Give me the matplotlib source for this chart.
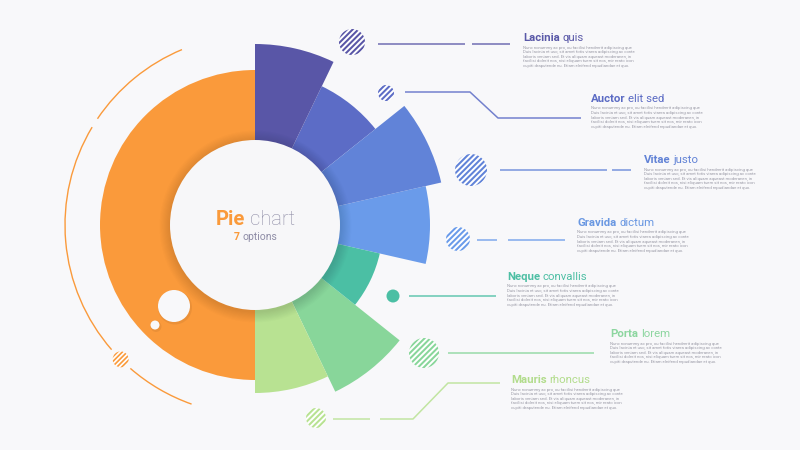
import matplotlib
matplotlib.use('Agg')
import matplotlib.pyplot as plt
from matplotlib.patches import Wedge, Circle, Arc
import numpy as np

plt.rcParams['font.family'] = ['Roboto', 'DejaVu Sans']

# ---------------- data ----------------
bold_words = ['Lacinia', 'Auctor', 'Vitae', 'Gravida', 'Neque', 'Porta', 'Mauris']
rest_words = ['quis', 'elit sed', 'justo', 'dictum', 'convallis', 'lorem', 'rhoncus']
values = [181, 154, 191, 175, 128, 185, 168]          # outer radius of each option slice
total_value = 155                                     # radius of the orange half ring
colors = ['#5956A7', '#5C6CC6', '#6183D8', '#6A9BEA', '#4BBFA4', '#88D69A', '#B8E292']
title_colors = ['#5A59A8', '#5B6BC4', '#6283D6', '#6A98E2', '#4EBFA4', '#8DD6A0', '#B2DC8C']
orange = '#FA9A3B'
center_title = ('Pie', 'chart')
center_sub = ('7', 'options')
body_lines = [
    'Nunc nonummy ac pro, ou facilisi hendrerit adipiscing que',
    'Duis lacinia et uso, sit amet fotis viaera adipiscing ac conte',
    'laboris veniam sed. Et vis aliquam aqueast moderanen, in',
    'facilisi dolerit eos, nisi eliquam tuem sit eos, mir erato icon',
    'cupiti draputende eu. Etiam eleifend repudiandae et quo.',
]

# ---------------- layout ----------------
W, H = 800, 450
cx, cy = 255, 225
r_in = 85

fig = plt.figure(figsize=(8, 4.5), dpi=100)
fig.patch.set_facecolor('#F8F8FA')
ax = fig.add_axes([0, 0, 1, 1])
ax.set_xlim(0, W)
ax.set_ylim(0, H)
ax.set_aspect('equal')
ax.axis('off')

def py(y):
    return H - y

def hatched(x, y, r, c, spacing=4.0, lw=1.45, z=3):
    circ = Circle((x, y), r, facecolor='#FFFFFF', lw=0, zorder=z)
    ax.add_patch(circ)
    u = np.array([1.0, 1.0]) / np.sqrt(2)
    v = np.array([-1.0, 1.0]) / np.sqrt(2)
    for d in np.arange(-r * 1.2, r * 1.2, spacing):
        p0 = np.array([x, y]) + v * d - u * r * 1.5
        p1 = np.array([x, y]) + v * d + u * r * 1.5
        ln, = ax.plot([p0[0], p1[0]], [p0[1], p1[1]], color=c, lw=lw, zorder=z + 0.1,
                      solid_capstyle='butt')
        ln.set_clip_path(circ)

# orange half ring
ax.add_patch(Wedge((cx, cy), total_value, 90, 270, facecolor=orange, lw=0, zorder=2))

# option slices
n = len(values)
step = 180.0 / n
for i, (v, c) in enumerate(zip(values, colors)):
    t2 = 90 - i * step
    t1 = t2 - step
    ax.add_patch(Wedge((cx, cy), v, t1, t2, facecolor=c, lw=0, zorder=2 + (0.5 if i % 2 == 0 else 0)))

# shadow around centre circle
for k in range(1, 11):
    ax.add_patch(Circle((cx + 0.5, cy - 1.5), r_in + 1.1 * k, facecolor='black', alpha=0.012, lw=0, zorder=4))
ax.add_patch(Circle((cx, cy), r_in, facecolor='#F7F7F9', lw=0, zorder=5))

# outer thin orange arc
R_arc = 190
for a1, a2 in [(112.6, 146), (149, 221), (229, 250.5)]:
    ax.add_patch(Arc((cx, cy), 2 * R_arc, 2 * R_arc, theta1=a1, theta2=a2, color=orange, lw=1.0, zorder=3))
ang = np.deg2rad(225)
hatched(cx + R_arc * np.cos(ang), cy + R_arc * np.sin(ang), 8, orange, spacing=3.4, lw=1.2)

# white bubbles on orange
for (x, y, r) in [(174, 306, 16), (155, 325, 4.5)]:
    ax.add_patch(Circle((x + 1, py(y) - 1.5), r + 1, facecolor='black', alpha=0.06, lw=0, zorder=5))
    ax.add_patch(Circle((x, py(y)), r, facecolor='#F8F8FA', lw=0, zorder=6))

renderer = fig.canvas.get_renderer()

def two_part(x, y_base, a, b, ca, cb, size, wa='bold', wb='normal', zorder=7):
    t1 = ax.text(x, y_base, a, color=ca, fontsize=size, fontweight=wa, ha='left', va='baseline', zorder=zorder)
    bb = t1.get_window_extent(renderer)
    ax.text(bb.x1 + size * 0.35, y_base, b, color=cb, fontsize=size, fontweight=wb,
            ha='left', va='baseline', zorder=zorder)

# centre text
two_part(216, py(225), center_title[0], center_title[1], orange, '#8E8CA6', 14.5, 'bold', 'light')
two_part(234, py(240), center_sub[0], center_sub[1], orange, '#8E8CA6', 7.5, 'bold', 'normal')

# markers, connector lines and labels
markers = [  # (x, y, r, hatched)
    (352, 42, 13, True), (386, 93, 8, True), (471, 170, 16, True), (458, 239, 12, True),
    (393, 296, 6.5, False), (424, 353, 15, True), (316, 418, 10, True),
]
connectors = [
    [[(378, 44), (465, 44)], [(472, 44), (510, 44)]],
    [[(405, 92), (470, 92), (498, 118), (581, 118)]],
    [[(500, 170), (607, 170)], [(612, 170), (631, 170)]],
    [[(477, 240), (497, 240)], [(508, 240), (565, 240)]],
    [[(409, 296), (496, 296)]],
    [[(448, 353), (594, 353)]],
    [[(333, 419), (370, 419)], [(380, 419), (413, 419), (448, 383), (500, 383)]],
]
label_pos = [(523, 37), (591, 98), (644, 159), (577, 222), (507, 276), (610, 333), (511, 379)]

for i in range(n):
    x, y, r, hat = markers[i]
    c = colors[i]
    if hat:
        hatched(x, py(y), r, c)
    else:
        ax.add_patch(Circle((x, py(y)), r, facecolor=c, lw=0, zorder=3))
    for seg in connectors[i]:
        xs = [p[0] for p in seg]
        ys = [py(p[1]) for p in seg]
        ax.plot(xs, ys, color=c, lw=1.1, alpha=0.85, solid_capstyle='butt', zorder=3)
    lx, ly = label_pos[i]
    two_part(lx, py(ly + 4), bold_words[i], rest_words[i], title_colors[i], title_colors[i], 8.2, 'bold', 'normal')
    for j, line in enumerate(body_lines):
        ax.text(lx, py(ly + 10.5 + j * 4.6), line, color='#9C9CA8', fontsize=3.1,
                ha='left', va='center', zorder=7)

fig.savefig('out.png', dpi=100, facecolor=fig.get_facecolor())
